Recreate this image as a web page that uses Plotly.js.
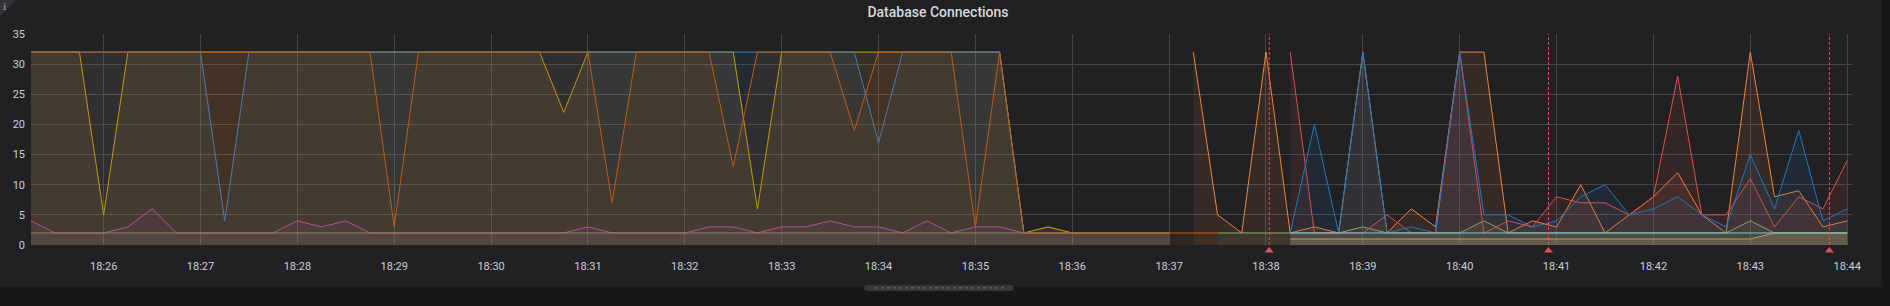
<!DOCTYPE html>
<html><head><meta charset="utf-8">
<script src="https://cdn.plot.ly/plotly-3.0.1.min.js"></script>
<style>html,body{margin:0;padding:0;background:#212124;overflow:hidden}#chart{width:1890px;height:306px}</style>
</head><body><div id="chart"></div>
<script>
// ---- time grid: samples every 15 s from 18:25:15 to 18:44:00 ----
const DAY = '2024-01-01';
const START_SEC = 18*3600 + 25*60 + 15;
const STEP_SEC = 15;
const N_SAMPLES = 76;
function ts(sec){const h=Math.floor(sec/3600),m=Math.floor(sec%3600/60),s=sec%60;
  return DAY+' '+String(h).padStart(2,'0')+':'+String(m).padStart(2,'0')+':'+String(s).padStart(2,'0');}
const times = Array.from({length:N_SAMPLES},(_,i)=>ts(START_SEC+i*STEP_SEC));

// ---- first generation of pods (samples from index 0) ----
const oldYellow = [
  32,32,32, 5,32,32,32,32,32,32,
  32,32,32,32,32,32,32,32,32,32,
  32,32,22,32,32,32,32,32,32,32,
   6,32,32,32,32,32,32,32,32,32,
  32, 2, 3, 2, 2, 2, 2, 2];
const oldBlue = [
  32,32,32,32,32,32,32,32, 4,32,
  32,32,32,32,32,32,32,32,32,32,
  32,32,32,32,32,32,32,32,32,32,
  32,32,32,32,32,17,32,32,32,32,
  32, 2, 2, 2, 2, 2, 2, 2];
const oldOrange = [
  32,32,32,32,32,32,32,32,32,32,
  32,32,32,32,32, 3,32,32,32,32,
  32,32,32,32, 7,32,32,32,32,13,
  32,32,32,32,19,32,32,32,32, 3,
  32, 2, 2, 2, 2, 2, 2, 2, 2, 2];
const oldPink = [
  4,2,2,2,3,6,2,2,2,2,
  2,4,3,4,2,2,2,2,2,2,
  2,2,2,3,2,2,2,2,3,3,
  2,3,3,4,3,3,2,4,2,3,
  3,2,2,2,2,2,2,2];
const oldGreen = [
  2,2,2,2,2,2,2,2,2,2,
  2,2,2,2,2,2,2,2,2,2,
  2,2,2,2,2,2,2,2,2,2,
  2,2,2,2,2,2,2,2,2,2,
  2,2,2,2,2,2,2,2];

// ---- second generation of pods (samples from index 48 = 18:37:15) ----
const NEW_START = 48;
const newOrange = [32, 5, 2,32, 2, 3, 2,32, 2, 6,  3,32,32, 2, 4, 3,10, 2, 5, 8, 12, 5, 2,32, 8, 9, 3, 4];
const newRed    = [null,null,null,null,32, 2, 2, 2, 5, 2,  2,32, 2, 4, 3, 8, 7, 7, 5, 8, 28, 5, 5,11, 3, 8, 6,14];
const newBlue   = [null,null,null,null, 2,20, 2,32, 2, 3,  2,32, 5, 5, 3, 4, 8,10, 5, 6,  8, 5, 3,15, 6,19, 4, 6];
const newGreen  = [null, 2, 2, 2, 2, 2, 2, 3, 2, 2,  2, 2, 4, 2, 2, 2, 2, 2, 2, 2,  2, 2, 2, 4, 2, 2, 2, 2];
const newTeal   = [null,null,null,null, 2, 2, 2, 2, 2, 2,  2, 2, 2, 2, 2, 2, 2, 2, 2, 2,  2, 2, 2, 2, 2, 2, 2, 2];
const newYellow = [null,null,null,null, 1, 1, 1, 1, 1, 1,  1, 1, 1, 1, 1, 1, 1, 1, 1, 1,  1, 1, 1, 1, 2, 2, 2, 2];

// ---- annotations (deploy events) ----
const annotationTimes = ['18:38:02','18:40:55','18:43:49'];

function place(start, arr){const out=new Array(N_SAMPLES).fill(null);arr.forEach((v,k)=>{out[start+k]=v;});return out;}
function series(vals, line, fill){
  return {type:'scatter', mode:'lines', x:times, y:vals, connectgaps:false,
    line:{color:line, width:1, shape:'linear'}, fill:'tozeroy', fillcolor:fill, hoverinfo:'skip'};
}
const traces = [
  series(place(0,oldPink),   '#BA43A9', 'rgba(186,67,169,0.10)'),
  series(place(0,oldGreen),  '#7F8E5F', 'rgba(126,178,109,0.10)'),
  series(place(0,oldYellow), '#CCA300', 'rgba(234,184,57,0.105)'),
  series(place(0,oldBlue),   '#447EBC', 'rgba(68,126,188,0.10)'),
  series(place(0,oldOrange), '#C15C17', 'rgba(193,92,23,0.09)'),
  series(place(NEW_START,newYellow), '#D4A84B', 'rgba(234,184,57,0.20)'),
  series(place(NEW_START,newGreen),  '#7EB26D', 'rgba(126,178,109,0.10)'),
  series(place(NEW_START,newOrange), '#EF843C', 'rgba(239,132,60,0.10)'),
  series(place(NEW_START,newRed),    '#E24D42', 'rgba(226,77,66,0.10)'),
  series(place(NEW_START,newBlue),   '#1F78C1', 'rgba(31,120,193,0.10)'),
  series(place(NEW_START,newTeal),   '#7FC6C4', 'rgba(110,208,224,0.08)')
];

// pixel helpers for decoration outside the plotting area
const PL=31, PR=1852, PT=34, PB=245;
const X = px => (px-PL)/(PR-PL);
const Y = py => (PB-py)/(PB-PT);

const shapes = [
  {type:'rect', xref:'paper', yref:'paper', x0:X(-5), x1:X(1900), y0:Y(320), y1:Y(286.7), fillcolor:'#161719', line:{width:0}},
  {type:'rect', xref:'paper', yref:'paper', x0:X(1881.7), x1:X(1900), y0:Y(320), y1:Y(-5), fillcolor:'#161719', line:{width:0}},
  {type:'path', xref:'paper', yref:'paper', fillcolor:'#37383c', line:{width:0},
   path:`M${X(867)},${Y(285)} L${X(1010.5)},${Y(285)} Q${X(1013.5)},${Y(285)} ${X(1013.5)},${Y(288)} Q${X(1013.5)},${Y(291)} ${X(1010.5)},${Y(291)} L${X(867)},${Y(291)} Q${X(864)},${Y(291)} ${X(864)},${Y(288)} Q${X(864)},${Y(285)} ${X(867)},${Y(285)} Z`},
  {type:'line', xref:'paper', yref:'paper', x0:X(875), x1:X(1004), y0:Y(287.8), y1:Y(287.8), line:{color:'#5d5e63', width:1.5, dash:'dot'}},
  {type:'path', xref:'paper', yref:'paper', fillcolor:'#333438', line:{width:0},
   path:`M${X(0)},${Y(0)} L${X(16)},${Y(0)} L${X(0)},${Y(16)} Z`}
];
annotationTimes.forEach(t=>{
  shapes.push({type:'line', xref:'x', yref:'paper', x0:DAY+' '+t, x1:DAY+' '+t, y0:0, y1:1,
    line:{color:'rgba(226,90,90,0.95)', width:1, dash:'3px,2px'}});
  shapes.push({type:'path', xref:'x', yref:'paper', xsizemode:'pixel', ysizemode:'pixel',
    xanchor:DAY+' '+t, yanchor:0, path:'M-4.5,-7.5 L4.5,-7.5 L0,-2 Z',
    fillcolor:'#E0524E', line:{width:0}});
});

const tickFont = {family:'Roboto, sans-serif', size:11, color:'#c7d0d9'};
const layout = {
  width:1890, height:306,
  margin:{l:PL, r:1890-PR, t:PT, b:306-PB, pad:0},
  paper_bgcolor:'#212124', plot_bgcolor:'#212124',
  showlegend:false, hovermode:false,
  title:{text:'Database Connections', x:938/1890, xanchor:'center', xref:'container',
         y:1-12/306, yanchor:'middle', yref:'container',
         font:{family:'Roboto, sans-serif', size:14, color:'#d8d9da', weight:500}},
  xaxis:{type:'date', range:[ts(START_SEC), ts(18*3600+44*60+3)], tick0:DAY+' 18:00:00', dtick:60000,
         tickformat:'%H:%M', showgrid:true, gridcolor:'#46464a', gridwidth:1, zeroline:false, showline:false,
         ticks:'', ticklabelstandoff:13, tickfont:tickFont, fixedrange:true},
  yaxis:{range:[0,35], tick0:0, dtick:5, showgrid:true, gridcolor:'#46464a', gridwidth:1, zeroline:false,
         showline:false, ticks:'', ticklabelstandoff:5, tickfont:tickFont, fixedrange:true},
  shapes:shapes,
  annotations:[{xref:'paper', yref:'paper', x:X(4.5), y:Y(7), text:'i', showarrow:false,
    font:{family:'DejaVu Serif, serif', size:10, color:'#a4a7ab'}, xanchor:'center', yanchor:'middle'}]
};
Plotly.newPlot('chart', traces, layout, {displayModeBar:false, staticPlot:true});
</script>
</body></html>
